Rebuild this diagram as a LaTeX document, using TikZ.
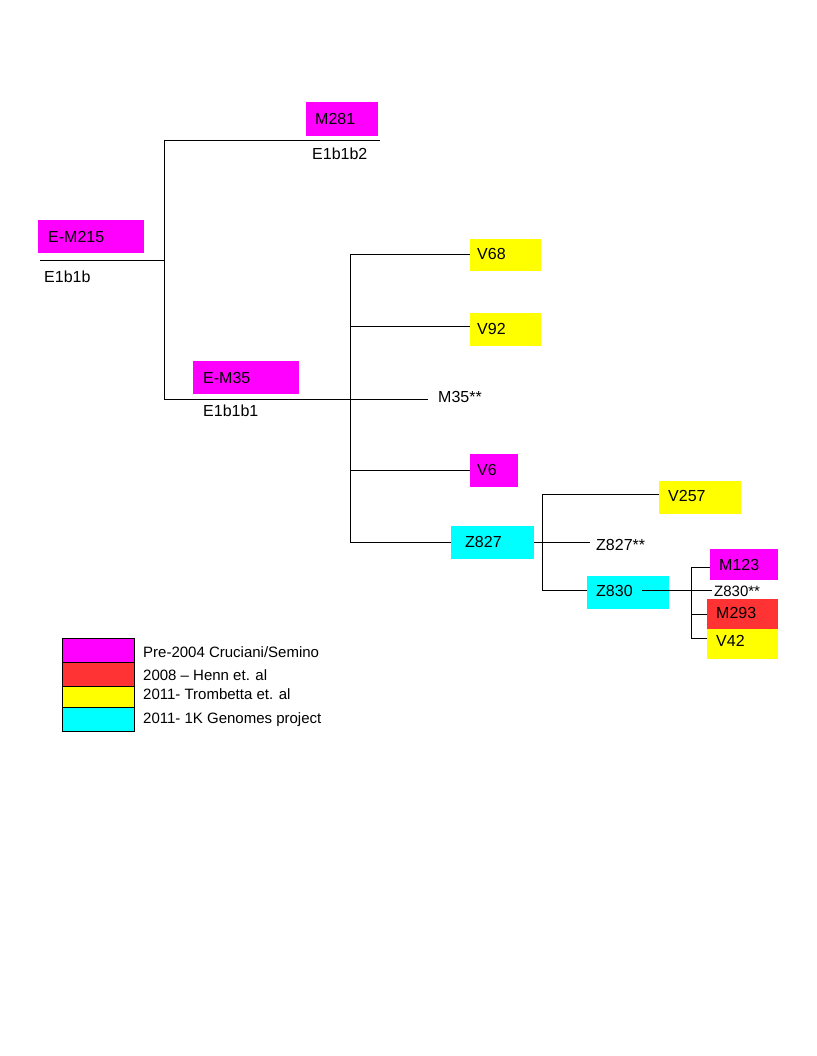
\documentclass[tikz,border=0pt]{standalone}
\usepackage{fontspec}
\setmainfont{Liberation Sans}
\definecolor{mag}{HTML}{FF00FF}
\definecolor{rd}{HTML}{FF3333}
\definecolor{yl}{HTML}{FFFF00}
\definecolor{cy}{HTML}{00FFFF}
\begin{document}
\begin{tikzpicture}[x=1pt,y=-1pt,
  lbl/.style={anchor=west,inner sep=0pt,font=\fontsize{16}{18}\selectfont},
  leg/.style={anchor=west,inner sep=0pt,font=\fontsize{15}{17}\selectfont},
  br/.style={line width=0.9pt}]
\useasboundingbox (0,0) rectangle (816,1056);
\newcommand{\mybox}[6]{\fill[#6] (#1,#2) rectangle (#3,#4); \node[lbl] (#5) at (#1+9,{(#2+#4)/2}) {#5};}
% boxes
\fill[mag] (38,220) rectangle (144,253); \node[lbl] (em215) at (48,237) {E-M215};
\fill[mag] (306,102) rectangle (378,136); \node[lbl] (m281) at (315,119) {M281};
\fill[mag] (193,361) rectangle (299,394); \node[lbl] (em35) at (203,378) {E-M35};
\fill[yl] (470,239) rectangle (541,271); \node[lbl] (v68) at (477,254) {V68};
\fill[yl] (470,313) rectangle (541,346); \node[lbl] (v92) at (477,329) {V92};
\fill[mag] (470,454) rectangle (518,487); \node[lbl] (v6) at (477,470) {V6};
\fill[cy] (451,526) rectangle (534,559); \node[lbl] (z827) at (465,542) {Z827};
\fill[yl] (659,481) rectangle (741,514); \node[lbl] (v257) at (668,496) {V257};
\fill[cy] (587,576) rectangle (669,609); \node[lbl] (z830) at (596,591) {Z830};
\fill[mag] (710,549) rectangle (778,580); \node[lbl] (m123) at (719,565) {M123};
\fill[rd] (707,599) rectangle (778,629); \node[lbl] (m293) at (716,613) {M293};
\fill[yl] (707,629) rectangle (778,659); \node[lbl] (v42) at (716,641) {V42};
% plain labels
\node[lbl] (e1b1b) at (44,277) {E1b1b};
\node[lbl] (e1b1b2) at (312,154) {E1b1b2};
\node[lbl] (e1b1b1) at (203,411) {E1b1b1};
\node[lbl] (m35s) at (438,397) {M35**};
\node[lbl] (z827s) at (596,545) {Z827**};
\node[lbl,font=\fontsize{15}{17}\selectfont] (z830s) at (714,591) {Z830**};
% branches
\coordinate (a0) at (40,260); \coordinate (a1) at (164,260);
\draw[br] (a0) -- (a1);
\draw[br] (164,140) -- (164,399);
\draw[br] (164,140) -- (380,140);
\draw[br] (164,399) -- (428,399);
\draw[br] (350,254) -- (350,542);
\draw[br] (350,254) -- (470,254);
\draw[br] (350,326) -- (470,326);
\draw[br] (350,470) -- (470,470);
\draw[br] (350,542) -- (451,542);
\draw[br] (534,542) -- (590,542);
\draw[br] (542,494) -- (542,590);
\draw[br] (542,494) -- (659,494);
\draw[br] (542,590) -- (587,590);
\draw[br] (642,590) -- (712,590);
\draw[br] (691,567) -- (691,638);
\draw[br] (691,567) -- (710,567);
\draw[br] (691,614) -- (707,614);
\draw[br] (691,638) -- (707,638);
% legend
\draw[fill=mag] (62,638) rectangle (134,662);
\draw[fill=rd] (62,662) rectangle (134,686);
\draw[fill=yl] (62,686) rectangle (134,707);
\draw[fill=cy] (62,707) rectangle (134,731);
\node[leg] (l1) at (143,652) {Pre-2004 Cruciani/Semino};
\node[leg] (l2) at (143,675) {2008 – Henn et. al};
\node[leg] (l3) at (143,694) {2011- Trombetta et. al};
\node[leg] (l4) at (143,720) {2011- 1K Genomes project};
\end{tikzpicture}
\end{document}
